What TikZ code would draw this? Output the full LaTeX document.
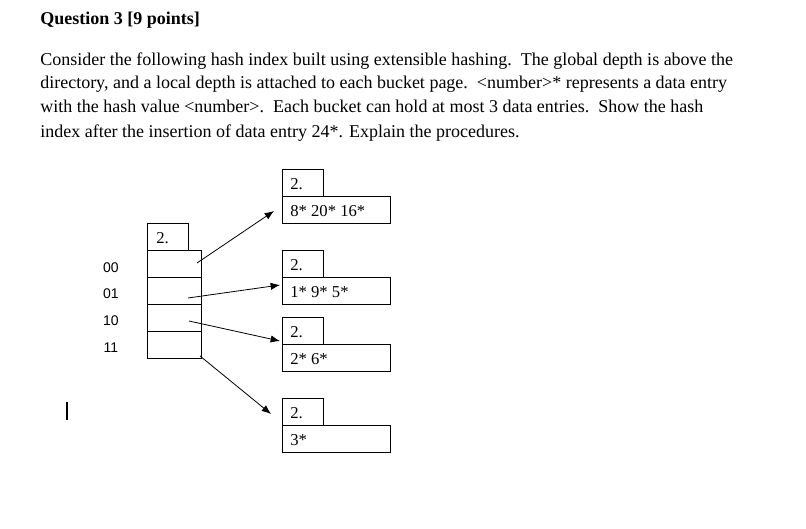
\documentclass[tikz,border=0pt]{standalone}
\usepackage{fontspec}
\usetikzlibrary{arrows.meta}
\setmainfont{Liberation Serif}
\newfontfamily\lsans{Liberation Sans}
\begin{document}
\begin{tikzpicture}[x=0.75pt,y=-0.75pt,
  bx/.style={draw,line width=0.6pt,inner sep=0pt},
  arr/.style={-{Latex[length=7pt,width=5.5pt]},line width=0.6pt},
  para/.style={anchor=base west,inner sep=0pt,font=\fontsize{13.5}{15}\selectfont},
  dtxt/.style={anchor=west,inner sep=0pt,font=\fontsize{12.5}{14}\selectfont},
  lab/.style={anchor=center,inner sep=0pt,font=\lsans\fontsize{10.5}{12}\selectfont}]
\useasboundingbox (0,0) rectangle (806,528);
\node[para,font=\bfseries\fontsize{13.5}{15}\selectfont] (title) at (40,25) {Question 3 [9 points]};
\node[para] (l1) at (40,65) {Consider the following hash index built using extensible hashing.\ \ The global depth is above the};
\node[para] (l2) at (40,89) {directory, and a local depth is attached to each bucket page.\ \ <number>* represents a data entry};
\node[para] (l3) at (40,113) {with the hash value <number>.\ \ Each bucket can hold at most 3 data entries.\ \ Show the hash};
\node[para] (l4) at (40,137) {index after the insertion of data entry 24*. Explain the procedures.};
% directory
\draw[bx] (147,223) rectangle (188,250);
\node[dtxt] (gd) at (156,238) {2.};
\foreach \i/\y in {0/250,1/277,2/304,3/331}{
  \draw[bx] (147,\y) rectangle (201,\y+27);
}
\node[lab] (d0) at (111,268) {00};
\node[lab] (d1) at (111,294) {01};
\node[lab] (d2) at (111,321) {10};
\node[lab] (d3) at (111,348) {11};
% buckets
\foreach \n/\y/\t in {a/169/{8* 20* 16*},b/250/{1* 9* 5*},c/317/{2* 6*},d/398/{3*}}{
  \draw[bx] (282,\y) rectangle (323,\y+27);
  \draw[bx] (282,\y+27) rectangle (390,\y+54);
  \node[dtxt] (ld\n) at (290,\y+15) {2.};
  \node[dtxt] (e\n) at (290,\y+42) {\t};
}
\coordinate (s0) at (197,263); \coordinate (t0) at (274,211);
\coordinate (s1) at (188,298); \coordinate (t1) at (280,285);
\coordinate (s2) at (189,321); \coordinate (t2) at (280,341);
\coordinate (s3) at (200,356); \coordinate (t3) at (271,414);
\draw[arr] (s0) -- (t0);
\draw[arr] (s1) -- (t1);
\draw[arr] (s2) -- (t2);
\draw[arr] (s3) -- (t3);
\draw[line width=0.8pt] (67,402) -- (67,420);
\end{tikzpicture}
\end{document}
